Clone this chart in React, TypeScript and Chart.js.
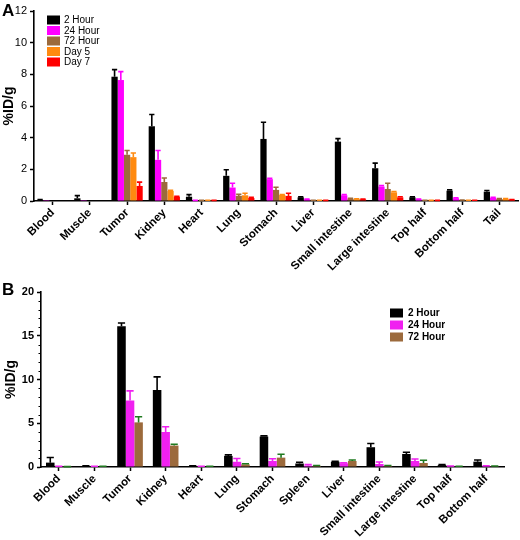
import React, { useEffect, useRef } from "react";
import { Chart, registerables } from "chart.js";

Chart.register(...registerables);

// ---------- Data: Panel A ----------
const categoriesA = ["Blood", "Muscle", "Tumor", "Kidney", "Heart", "Lung", "Stomach", "Liver", "Small intestine", "Large intestine", "Top half", "Bottom half", "Tail"];
const seriesLabelsA = ["2 Hour", "24 Hour", "72 Hour", "Day 5", "Day 7"];
const a2h = [0.07, 0.17, 7.85, 4.72, 0.27, 1.59, 3.92, 0.23, 3.75, 2.07, 0.23, 0.65, 0.59];
const a2hErr = [0.02, 0.17, 0.45, 0.74, 0.13, 0.38, 1.05, 0.03, 0.19, 0.32, 0.03, 0.05, 0.07];
const a24h = [0.01, 0.01, 7.64, 2.6, 0.03, 0.85, 1.38, 0.1, 0.36, 0.91, 0.1, 0.17, 0.2];
const a24hErr = [0, 0, 0.53, 0.59, 0.01, 0.27, 0.06, 0.02, 0.04, 0.06, 0.02, 0.03, 0.03];
const a72h = [0, 0, 2.92, 1.2, 0.03, 0.32, 0.7, 0.04, 0.15, 0.76, 0.04, 0.05, 0.13];
const a72hErr = [0, 0, 0.27, 0.25, 0.01, 0.1, 0.17, 0.01, 0.02, 0.36, 0.01, 0.01, 0.02];
const aDay5 = [0, 0, 2.77, 0.63, 0.04, 0.36, 0.38, 0.04, 0.12, 0.55, 0.03, 0.04, 0.13];
const aDay5Err = [0, 0, 0.26, 0.05, 0.01, 0.13, 0.03, 0.01, 0.02, 0.05, 0.01, 0.01, 0.02];
const aDay7 = [0, 0, 0.95, 0.27, 0.03, 0.19, 0.32, 0.03, 0.1, 0.23, 0.03, 0.04, 0.08];
const aDay7Err = [0, 0, 0.24, 0.03, 0.01, 0.05, 0.17, 0.01, 0.02, 0.04, 0.01, 0.01, 0.01];
const yTicksA = { min: 0, max: 12, step: 2 };

// ---------- Data: Panel B ----------
const categoriesB = ["Blood", "Muscle", "Tumor", "Kidney", "Heart", "Lung", "Stomach", "Spleen", "Liver", "Small intestine", "Large intestine", "Top half", "Bottom half"];
const seriesLabelsB = ["2 Hour", "24 Hour", "72 Hour"];
const b2h = [0.5, 0.1, 16.1, 8.8, 0.12, 1.27, 3.48, 0.4, 0.6, 2.26, 1.49, 0.22, 0.61];
const b2hErr = [0.58, 0.03, 0.35, 1.5, 0.03, 0.12, 0.08, 0.15, 0.05, 0.42, 0.2, 0.05, 0.19];
const b24h = [0.05, 0.06, 7.6, 4.0, 0.06, 0.6, 0.69, 0.15, 0.42, 0.34, 0.69, 0.08, 0.1];
const b24hErr = [0.04, 0.03, 1.1, 0.6, 0.03, 0.38, 0.26, 0.12, 0.05, 0.23, 0.23, 0.03, 0.05];
const b72h = [0.02, 0.06, 5.1, 2.45, 0.06, 0.3, 1.07, 0.12, 0.69, 0.12, 0.46, 0.06, 0.08];
const b72hErr = [0.02, 0.03, 0.65, 0.15, 0.03, 0.08, 0.38, 0.05, 0.11, 0.05, 0.31, 0.03, 0.04];
const yTicksB = { min: 0, max: 20, step: 5, minor: 1 };

const FONT = '"Liberation Sans", Arial, Helvetica, sans-serif';

const errorBarPlugin = {
  id: "errorBars",
  afterDatasetsDraw(chart: any) {
    const ctx = chart.ctx;
    const yScale = chart.scales.y;
    chart.data.datasets.forEach((ds: any, i: number) => {
      const meta = chart.getDatasetMeta(i);
      const errs: number[] = ds.errors || [];
      const color = ds.errorColor || ds.backgroundColor;
      meta.data.forEach((bar: any, j: number) => {
        const v = ds.data[j];
        const e = errs[j];
        if (!e) return;
        const yTop = yScale.getPixelForValue(v + e);
        const { x, y, width } = bar.getProps(["x", "y", "width"], true);
        ctx.save();
        ctx.strokeStyle = color;
        ctx.lineWidth = 1.6;
        ctx.beginPath();
        ctx.moveTo(x, y);
        ctx.lineTo(x, yTop);
        ctx.moveTo(x - width * 0.42, yTop);
        ctx.lineTo(x + width * 0.42, yTop);
        ctx.stroke();
        ctx.restore();
      });
    });
  },
};

const legendPlugin = {
  id: "boxLegend",
  afterDraw(chart: any, _args: any, opts: any) {
    if (!opts || !opts.show) return;
    const ctx = chart.ctx;
    ctx.save();
    ctx.font = `${opts.bold ? "bold " : ""}${opts.fontSize}px ${FONT}`;
    ctx.textBaseline = "middle";
    ctx.textAlign = "left";
    chart.data.datasets.forEach((ds: any, i: number) => {
      const cy = opts.y + i * opts.rowH;
      ctx.fillStyle = ds.backgroundColor;
      ctx.fillRect(opts.x, cy - opts.boxH / 2, opts.boxW, opts.boxH);
      ctx.fillStyle = "#000";
      ctx.fillText(ds.label, opts.x + opts.boxW + opts.gap, cy + 0.5);
    });
    ctx.restore();
  },
};

const minorTickPlugin = {
  id: "minorTicks",
  afterDraw(chart: any, _args: any, opts: any) {
    if (!opts || !opts.step) return;
    const ctx = chart.ctx;
    const s = chart.scales.y;
    ctx.save();
    ctx.strokeStyle = "#000";
    ctx.lineWidth = 1;
    for (let v = s.min; v <= s.max + 1e-9; v += opts.step) {
      if (Math.abs(v % opts.major) < 1e-9) continue;
      const py = Math.round(s.getPixelForValue(v)) + 0.5;
      ctx.beginPath();
      ctx.moveTo(s.right, py);
      ctx.lineTo(s.right - opts.len, py);
      ctx.stroke();
    }
    ctx.restore();
  },
};

function makeConfig(
  labels: string[],
  datasets: any[],
  yt: { min: number; max: number; step: number },
  yAxisWidth: number,
  xAxisHeight: number,
  padding: any,
  tickBold: boolean,
  titlePadTop: number,
  legendOpts: any,
  minorOpts: any
) {
  return {
    type: "bar",
    data: { labels, datasets },
    plugins: [errorBarPlugin, legendPlugin, minorTickPlugin],
    options: {
      responsive: false,
      animation: false,
      devicePixelRatio: 1,
      layout: { padding },
      datasets: {
        bar: { categoryPercentage: datasets.length > 3 ? 0.84 : 0.72, barPercentage: 1.0 },
      },
      plugins: {
        legend: { display: false },
        tooltip: { enabled: false },
        boxLegend: legendOpts,
        minorTicks: minorOpts,
      },
      scales: {
        x: {
          grid: { display: true, drawOnChartArea: false, drawTicks: true, tickLength: 4, color: "#000", tickWidth: 1.5, offset: false },
          border: { display: true, color: "#000", width: 1.6 },
          ticks: {
            autoSkip: false,
            maxRotation: 45,
            minRotation: 45,
            color: "#000",
            padding: 1,
            font: { family: FONT, size: 11.5, weight: "bold" },
          },
          afterFit: (scale: any) => {
            scale.height = xAxisHeight;
          },
        },
        y: {
          min: yt.min,
          max: yt.max,
          grid: { display: true, drawOnChartArea: false, drawTicks: true, tickLength: 4, color: "#000", tickWidth: 1.5 },
          border: { display: true, color: "#000", width: 1.6 },
          afterBuildTicks: (scale: any) => {
            const t: any[] = [];
            for (let v = yt.min; v <= yt.max + 1e-9; v += yt.step) t.push({ value: v });
            scale.ticks = t;
          },
          ticks: {
            autoSkip: false,
            stepSize: yt.step,
            color: "#000",
            padding: 3,
            font: { family: FONT, size: 11, weight: tickBold ? "bold" : "normal" },
          },
          title: {
            display: true,
            text: "%ID/g",
            color: "#000",
            padding: { top: titlePadTop, bottom: 0 },
            font: { family: FONT, size: 14, weight: "bold" },
          },
          afterFit: (scale: any) => {
            scale.width = yAxisWidth;
          },
        },
      },
    },
  };
}

export default function App() {
  const refA = useRef<HTMLCanvasElement>(null);
  const refB = useRef<HTMLCanvasElement>(null);

  useEffect(() => {
    const dsA = [
      { label: seriesLabelsA[0], data: a2h, errors: a2hErr, backgroundColor: "#000000" },
      { label: seriesLabelsA[1], data: a24h, errors: a24hErr, backgroundColor: "#ff00ff" },
      { label: seriesLabelsA[2], data: a72h, errors: a72hErr, backgroundColor: "#9c6a3c" },
      { label: seriesLabelsA[3], data: aDay5, errors: aDay5Err, backgroundColor: "#ff8a10" },
      { label: seriesLabelsA[4], data: aDay7, errors: aDay7Err, backgroundColor: "#ff0000" },
    ];
    const dsB = [
      { label: seriesLabelsB[0], data: b2h, errors: b2hErr, backgroundColor: "#000000" },
      { label: seriesLabelsB[1], data: b24h, errors: b24hErr, backgroundColor: "#f020f0" },
      { label: seriesLabelsB[2], data: b72h, errors: b72hErr, backgroundColor: "#9c6a3c", errorColor: "#1f7a1f" },
    ];
    const chartA = new Chart(
      refA.current as HTMLCanvasElement,
      makeConfig(
        categoriesA,
        dsA,
        yTicksA,
        34,
        71,
        { top: 11, right: 2, left: 0, bottom: 0 },
        false,
        1,
        { show: true, x: 47, y: 20, rowH: 10.5, boxW: 13, boxH: 9, gap: 4, fontSize: 10, bold: false },
        null
      ) as any
    );
    const chartB = new Chart(
      refB.current as HTMLCanvasElement,
      makeConfig(
        categoriesB,
        dsB,
        yTicksB,
        41,
        73,
        { top: 20, right: 16, left: 0, bottom: 0 },
        true,
        3,
        { show: true, x: 390, y: 41, rowH: 12, boxW: 13, boxH: 9, gap: 5, fontSize: 10, bold: true },
        { step: yTicksB.minor, major: yTicksB.step, len: 2.5 }
      ) as any
    );
    return () => {
      chartA.destroy();
      chartB.destroy();
    };
  }, []);

  const letter: React.CSSProperties = {
    position: "absolute",
    left: 2,
    fontFamily: FONT,
    fontWeight: "bold",
    fontSize: 17,
    lineHeight: "17px",
    color: "#000",
  };

  return (
    <div style={{ position: "fixed", left: 0, top: 0, width: 520, height: 540, background: "#fff", overflow: "hidden" }}>
      <canvas ref={refA} width={520} height={272} style={{ position: "absolute", left: 0, top: 0, width: 520, height: 272 }} />
      <canvas ref={refB} width={520} height={268} style={{ position: "absolute", left: 0, top: 272, width: 520, height: 268 }} />
      <div style={{ ...letter, top: 2 }}>A</div>
      <div style={{ ...letter, top: 281 }}>B</div>
    </div>
  );
}
